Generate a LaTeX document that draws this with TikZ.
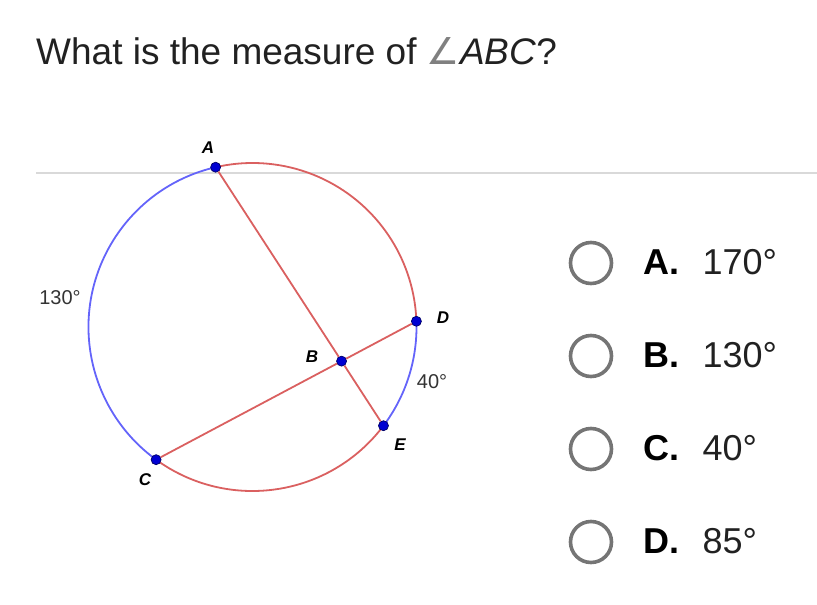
\documentclass[tikz,border=0pt]{standalone}
\usepackage{fontspec}
\setmainfont{Liberation Sans}
\newfontfamily\symfont{DejaVu Sans}
\usepackage{tikz}
\usetikzlibrary{positioning}
\definecolor{chordred}{RGB}{218,96,96}
\definecolor{arcblue}{RGB}{100,100,250}
\definecolor{dotblue}{RGB}{0,0,210}
\definecolor{ringgray}{RGB}{117,117,117}
\definecolor{textdark}{RGB}{33,33,33}

\begin{document}
\begin{tikzpicture}[x=1pt, y=1pt,
titletext/.style={font=\fontsize{37}{40}\selectfont, text=textdark, inner sep=0pt, anchor=base west},
pointdot/.style={circle, draw=blue!40!black, fill=dotblue, line width=0.7pt, inner sep=0pt, minimum size=10pt},
pointlabel/.style={font=\fontsize{17}{19}\selectfont\bfseries\itshape, inner sep=0pt},
arclabel/.style={font=\fontsize{20}{22}\selectfont, text=black!80, inner sep=0pt},
redarc/.style={draw=chordred, line width=1.8pt},
bluearc/.style={draw=arcblue, line width=1.8pt},
radiobox/.style={circle, draw=ringgray, line width=3.6pt, inner sep=0pt, minimum size=41pt},
optkey/.style={font=\fontsize{36}{40}\selectfont\bfseries, text=black, inner sep=0pt, anchor=base west},
optval/.style={font=\fontsize{36}{40}\selectfont, text=textdark, inner sep=0pt},
]
\useasboundingbox (0,0) rectangle (817,-605);

%Title
\node[titletext] (title) at (36,-64) {What is the measure of {\symfont\color{gray}∠}\textit{ABC}?};
\coordinate (ruleL) at (36,-173);
\coordinate (ruleR) at (817,-173);
\draw[black!15, line width=1.2pt] (ruleL) -- (ruleR);

%Circle
\coordinate (O) at (252.5,-327);
\path (O) ++(103:164) coordinate (a);
\path (O) ++(2:164)   coordinate (d);
\path (O) ++(-37:164) coordinate (e);
\path (O) ++(234:164) coordinate (c);
\coordinate (b) at (intersection of a--e and c--d);

\draw[bluearc] (a) arc[start angle=103, end angle=234, radius=164pt];
\draw[redarc]  (c) arc[start angle=234, end angle=323, radius=164pt];
\draw[bluearc] (e) arc[start angle=-37, end angle=2, radius=164pt];
\draw[redarc]  (d) arc[start angle=2, end angle=103, radius=164pt];

%Nodes
\node[pointdot] (A) at (a) {};
\node[pointdot] (B) at (b) {};
\node[pointdot] (C) at (c) {};
\node[pointdot] (D) at (d) {};
\node[pointdot] (E) at (e) {};

%Lines
\draw[chordred, line width=1.8pt] (A) -- (B);
\draw[chordred, line width=1.8pt] (B) -- (E);
\draw[chordred, line width=1.8pt] (C) -- (B);
\draw[chordred, line width=1.8pt] (B) -- (D);

%Labels
\node[pointlabel] (labA) at (208,-148) {A};
\node[pointlabel] (labB) at (312,-357) {B};
\node[pointlabel] (labC) at (145,-480) {C};
\node[pointlabel] (labD) at (443,-318) {D};
\node[pointlabel] (labE) at (400,-445) {E};
\node[arclabel] (arcAC) at (60,-298) {130°};
\node[arclabel] (arcDE) at (432,-382) {40°};

%Choices
\node[radiobox] (optA) at (591,-263) {};
\node[optkey]   (keyA) at (643,-274) {A.};
\node[optval]   (valA) [base right=23pt of keyA] {170°};

\node[radiobox] (optB) at (591,-356) {};
\node[optkey]   (keyB) at (643,-367) {B.};
\node[optval]   (valB) [base right=23pt of keyB] {130°};

\node[radiobox] (optC) at (591,-449) {};
\node[optkey]   (keyC) at (643,-460) {C.};
\node[optval]   (valC) [base right=23pt of keyC] {40°};

\node[radiobox] (optD) at (591,-542) {};
\node[optkey]   (keyD) at (643,-553) {D.};
\node[optval]   (valD) [base right=23pt of keyD] {85°};
\end{tikzpicture}
\end{document}
